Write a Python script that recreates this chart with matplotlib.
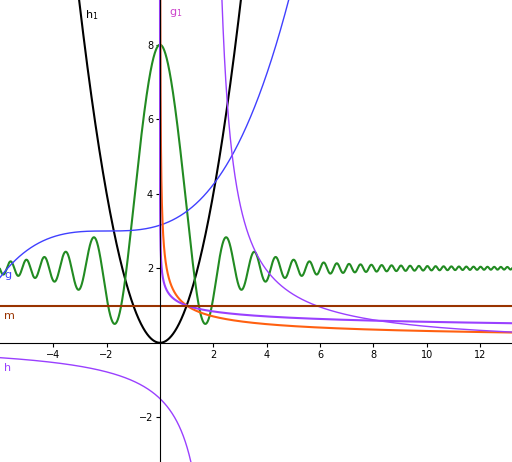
import numpy as np
import matplotlib.pyplot as plt

xlim = (-6.0, 13.2)
ylim = (-3.2, 9.2)
xticks = [-4, -2, 2, 4, 6, 8, 10, 12]
yticks = [-2, 2, 4, 6, 8]
m_level = 1.0
h_left = (3.27, 2.18)   # b, c for left branch
h_right = (4.4, 1.85, -0.1)

fig = plt.figure(figsize=(5.12, 4.62), dpi=100)
ax = fig.add_axes([0, 0, 1, 1])
ax.set_xlim(*xlim); ax.set_ylim(*ylim)

x = np.linspace(xlim[0], xlim[1], 8000)
ax.plot(x, x**2, color='black', lw=1.5)
ax.plot(x, 2 + 6*np.cos(x**2)/(1 + x**2), color='#228B22', lw=1.5)
ax.plot(x, 3 + 0.0195*(x + 2)**3, color='#4040ff', lw=1)
xp = np.geomspace(1e-6, xlim[1], 4000)
ax.plot(xp, xp**-0.5, color='#ff6010', lw=1.5)
ax.plot(xp, xp**-0.25, color='#9a40ff', lw=1.5)
xl = np.linspace(xlim[0], h_left[1] - 0.01, 2000)
ax.plot(xl, h_left[0]/(xl - h_left[1]), color='#9a40ff', lw=1)
xr = np.linspace(h_right[1] + 0.01, xlim[1], 2000)
ax.plot(xr, h_right[2] + h_right[0]/(xr - h_right[1]), color='#9a40ff', lw=1)
ax.axhline(m_level, color='#993300', lw=1.5)

for s in ['top', 'right']:
    ax.spines[s].set_visible(False)
ax.spines['left'].set_position(('data', 0))
ax.spines['bottom'].set_position(('data', 0))
ax.set_xticks(xticks); ax.set_yticks(yticks)
ax.tick_params(labelsize=7, length=3, direction='out', pad=2)
for lab in ax.get_yticklabels():
    lab.set_horizontalalignment('right')

ax.text(-2.8, 8.7, 'h$_1$', fontsize=8, color='black')
ax.text(0.35, 8.8, 'g$_1$', fontsize=8, color='#cc44cc')
ax.text(-5.85, 1.75, 'g', fontsize=8, color='#4040ff')
ax.text(-5.85, 0.65, 'm', fontsize=8, color='#993300')
ax.text(-5.85, -0.75, 'h', fontsize=8, color='#9a40ff')
fig.savefig('out.png', dpi=100)
